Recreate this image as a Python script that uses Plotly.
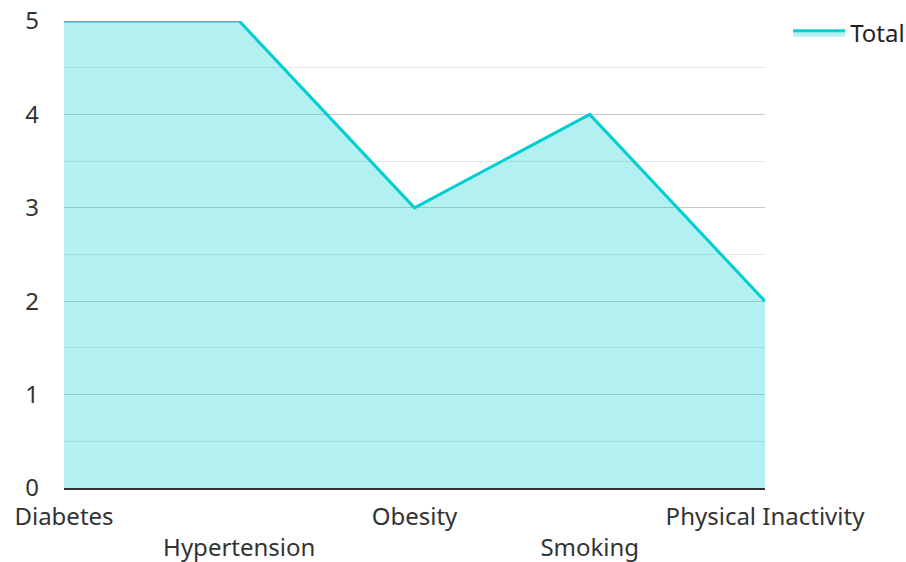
import plotly.graph_objects as go

categories = ["Diabetes", "Hypertension", "Obesity", "Smoking", "Physical Inactivity"]
values = [5, 5, 3, 4, 2]
series_name = "Total"

tick_text = [c if i % 2 == 0 else "<br>" + c for i, c in enumerate(categories)]

fig = go.Figure()
fig.add_trace(go.Scatter(
    x=list(range(len(categories))), y=values, name=series_name,
    mode="lines", fill="tozeroy",
    line=dict(color="#00CED1", width=3),
    fillcolor="rgba(0,206,209,0.3)",
))

font = dict(family="Noto Sans", size=24, color="#333333")
fig.update_layout(
    width=906, height=562,
    margin=dict(l=64, r=141, t=21, b=74, autoexpand=False),
    plot_bgcolor="white", paper_bgcolor="white",
    font=font,
    showlegend=True,
    legend=dict(x=1.033, y=1.022, xanchor="left", yanchor="top",
                itemwidth=52,
                font=dict(family="Noto Sans", size=24, color="#222222"),
                bgcolor="rgba(0,0,0,0)"),
    xaxis=dict(
        range=[0, len(categories) - 1], automargin=False,
        tickmode="array", tickvals=list(range(len(categories))), ticktext=tick_text,
        showgrid=False, zeroline=False,
        showline=True, linecolor="#333333", linewidth=2,
        ticks="", tickfont=font, ticklabelstandoff=6,
    ),
    yaxis=dict(
        range=[0, 5], tickmode="linear", tick0=0, dtick=1, automargin=False,
        showgrid=True, gridcolor="#c8c8c8", gridwidth=1,
        minor=dict(dtick=0.5, showgrid=True, gridcolor="#e6e6e6", gridwidth=1),
        zeroline=False, showline=False, ticks="",
        tickfont=font, ticklabelstandoff=24,
    ),
)

fig.write_html("out.html")
